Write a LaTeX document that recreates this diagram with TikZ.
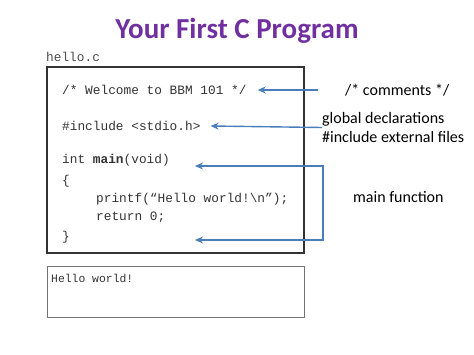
\documentclass[tikz,border=0pt]{standalone}
\usepackage{fontspec}
\setmainfont{Carlito}
\setmonofont{Liberation Mono}
\usetikzlibrary{arrows.meta,positioning}
\definecolor{titlepurple}{HTML}{7030A0}
\definecolor{arrowblue}{HTML}{4A7EBB}
\definecolor{codegray}{HTML}{333333}
\begin{document}
\begin{tikzpicture}[x=1pt,y=-1pt]
  \tikzstyle{code}=[anchor=west,inner sep=0pt,font=\ttfamily\fontsize{12.8}{14}\selectfont,text=codegray]
  \tikzstyle{note}=[anchor=west,inner sep=0pt,font=\fontsize{16}{19}\selectfont,align=left]
  \tikzstyle{arr}=[draw=arrowblue,line width=1.4pt,-{Stealth[length=8pt,width=7pt]}]
  \useasboundingbox (0,0) rectangle (474,355);
  \node[font=\bfseries\fontsize{29}{35}\selectfont,text=titlepurple] (title) at (237,31) {Your First C Program};
  \node[code,text=black!70] (file) at (46,57) {hello.c};
  % source box
  \draw[draw=codegray,line width=1.5pt] (47,67) rectangle (304,253);
  \node[code] (welcome) at (62,90) {/* Welcome to BBM 101 */};
  \node[code] (incl) at (62,126) {\#include <stdio.h>};
  \node[code] (mainln) at (62,160) {int \textbf{main}(void)};
  \node[code] (open) at (62,181) {\{};
  \node[code] (prt) at (96,199) {printf(“Hello world!\textbackslash n”);};
  \node[code] (ret) at (96,217) {return 0;};
  \node[code] (close) at (62,237) {\}};
  % output box
  \draw[draw=black!55,line width=1pt] (47,267) rectangle (304,318);
  \node[code,font=\ttfamily\fontsize{11.4}{13}\selectfont] (out) at (51,278) {Hello world!};
  % notes
  \node[note] (cmt) at (345,90) {/* comments */};
  \node[note] (glob) at (322,127.5) {global declarations\\\#include external files};
  \node[note] (mfun) at (353,197) {main function};
  \coordinate (mtop) at (195,166);
  \coordinate (mbot) at (195,240);
  \coordinate (mright) at (323,166);
  \draw[arr] ([xshift=-27pt]cmt.west) -- ([xshift=11pt]welcome.east);
  \draw[arr] (glob.west) -- ([xshift=10pt]incl.east);
  \draw[arr,{Stealth[length=8pt,width=7pt]}-{Stealth[length=8pt,width=7pt]}] (mtop) -- (mright) -- (mright |- mbot) -- (mbot);
\end{tikzpicture}
\end{document}
